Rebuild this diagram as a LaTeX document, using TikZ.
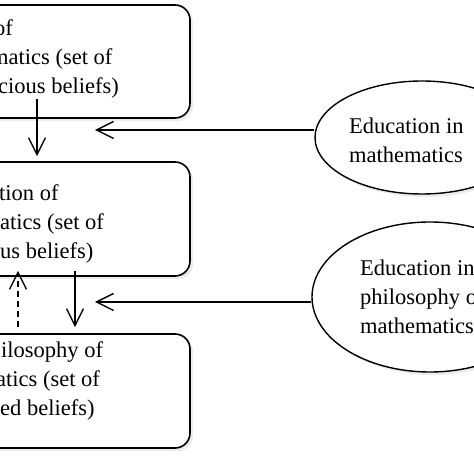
\documentclass[tikz,border=0pt]{standalone}
\usepackage{fontspec}
\setmainfont{Liberation Serif}
\usetikzlibrary{arrows.meta, shapes.geometric, shadows}

\tikzset{
	beliefbox/.style={draw, line width=1.6pt, rounded corners=15pt, fill=white,
		minimum width=306pt, inner sep=0pt,
		drop shadow={shadow xshift=3pt, shadow yshift=-3pt, opacity=0.15}},
	eduellipse/.style={ellipse, draw, line width=1.4pt, fill=white, inner sep=0pt,
		drop shadow={shadow xshift=3pt, shadow yshift=-3pt, opacity=0.15}},
	txt/.style={font=\fontsize{22.5pt}{29pt}\selectfont, align=left, inner sep=0pt, anchor=west},
	arr/.style={-{Straight Barb[length=17pt, width=17pt]}, line width=1.4pt}
}

\begin{document}
\begin{tikzpicture}[x=1pt, y=1pt]
		\useasboundingbox (0,0) rectangle (474,474);
		\fill[white] (0,0) rectangle (474,474);
		\clip (0,0) rectangle (474,474);
		% belief boxes, cut at the left border
		\node[beliefbox, minimum height=113pt] (box1) at (37,412.5) {};
		\node[beliefbox, minimum height=114pt] (box2) at (37,255) {};
		\node[beliefbox, minimum height=114pt] (box3) at (37,83) {};
		\node[txt] (box1txt) at (0,414.7) {\hspace*{-6pt}of\\\hspace*{-9pt}matics (set of\\\hspace*{-2pt}cious beliefs)};
		\node[txt] (box2txt) at (0,250.2) {\hspace*{-1pt}tion of\\atics (set of\\us beliefs)};
		\node[txt] (box3txt) at (0,92.7) {\hspace*{1pt}ilosophy of\\\hspace*{-4pt}atics (set of\\ed beliefs)};
		% education ellipses, cut at the right border
		\node[eduellipse, minimum width=214pt, minimum height=113pt] (edu1) at (422,336.5) {};
		\node[eduellipse, minimum width=236pt, minimum height=150pt] (edu2) at (430,177) {};
		\node[txt] (edu1txt) at (349,334) {Education in\\mathematics};
		\node[txt] (edu2txt) at (360,176.7) {Education in\\philosophy of\\mathematics};
		\coordinate (in1) at (95,344);
		\coordinate (in2) at (95,172);
		\draw[arr] ([yshift=20pt]box1.south) -- ([yshift=5pt]box2.north);
		\draw[arr] ([xshift=38pt,yshift=6pt]box2.south) -- ([xshift=38pt,yshift=6pt]box3.north);
		\draw[arr, dash pattern=on 6pt off 4pt] ([xshift=-19pt,yshift=6pt]box3.north) -- ([xshift=-19pt,yshift=6pt]box2.south);
		\draw[arr] (in1 -| edu1.west) -- (in1);
		\draw[arr] (in2 -| edu2.west) -- (in2);
	\end{tikzpicture}
\end{document}
